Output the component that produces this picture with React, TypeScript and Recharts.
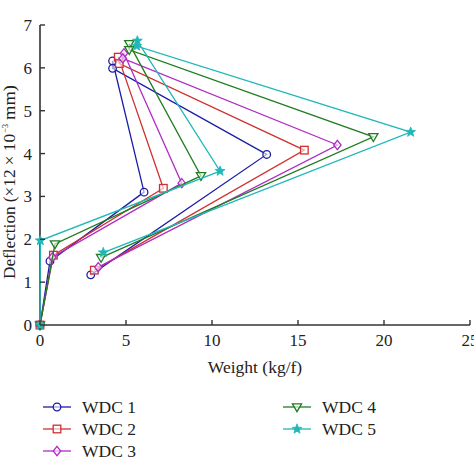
import React from "react";
import { ScatterChart, Scatter, XAxis, YAxis, Label } from "recharts";

const seriesNames = ["WDC 1", "WDC 2", "WDC 3", "WDC 4", "WDC 5"];
const wdc1X = [0, 0.58, 6.05, 4.22, 4.22, 13.18, 2.95];
const wdc1Y = [0, 1.49, 3.1, 6.16, 5.99, 3.98, 1.17];
const wdc2X = [0, 0.78, 7.17, 4.55, 4.61, 15.37, 3.16];
const wdc2Y = [0, 1.63, 3.19, 6.25, 6.1, 4.08, 1.28];
const wdc3X = [0, 0.72, 8.24, 4.88, 4.81, 17.29, 3.39];
const wdc3Y = [0, 1.58, 3.31, 6.34, 6.22, 4.2, 1.35];
const wdc4X = [0, 0.87, 9.36, 5.19, 5.19, 19.38, 3.55];
const wdc4Y = [0, 1.89, 3.48, 6.56, 6.42, 4.39, 1.57];
const wdc5X = [0, 0.02, 10.47, 5.66, 5.62, 21.55, 3.68];
const wdc5Y = [0, 1.97, 3.59, 6.63, 6.51, 4.5, 1.69];
const xTicks = [0, 5, 10, 15, 20, 25];
const yTicks = [0, 1, 2, 3, 4, 5, 6, 7];

const colors = ["#1c1ca8", "#d03030", "#b02cc4", "#1f7d1f", "#1fb8b8"];
const markerTypes = ["circle", "square", "diamond", "triangleDown", "star"];
const FONT = "'Liberation Serif', 'DejaVu Serif', serif";

const toPoints = (xs: number[], ys: number[]) => xs.map((x, i) => ({ x, y: ys[i] }));
const seriesData = [
  toPoints(wdc1X, wdc1Y),
  toPoints(wdc2X, wdc2Y),
  toPoints(wdc3X, wdc3Y),
  toPoints(wdc4X, wdc4Y),
  toPoints(wdc5X, wdc5Y),
];

function Marker({ type, cx, cy, color }: { type: string; cx: number; cy: number; color: string }) {
  const r = 3.8;
  if (type === "circle") {
    return <circle cx={cx} cy={cy} r={r} fill="white" fillOpacity={0.6} stroke={color} strokeWidth={1.3} />;
  }
  if (type === "square") {
    return <rect x={cx - r} y={cy - r} width={2 * r} height={2 * r} fill="white" fillOpacity={0.6} stroke={color} strokeWidth={1.3} />;
  }
  if (type === "diamond") {
    const d = r + 0.8;
    return (
      <polygon
        points={`${cx},${cy - d} ${cx + d * 0.8},${cy} ${cx},${cy + d} ${cx - d * 0.8},${cy}`}
        fill="white"
        fillOpacity={0.6}
        stroke={color}
        strokeWidth={1.3}
      />
    );
  }
  if (type === "triangleDown") {
    const d = r + 0.8;
    return (
      <polygon
        points={`${cx - d},${cy - d * 0.7} ${cx + d},${cy - d * 0.7} ${cx},${cy + d}`}
        fill="white"
        fillOpacity={0.6}
        stroke={color}
        strokeWidth={1.3}
      />
    );
  }
  const pts: string[] = [];
  const R = 5.2;
  const ri = 2.2;
  for (let i = 0; i < 10; i++) {
    const a = -Math.PI / 2 + (i * Math.PI) / 5;
    const rr = i % 2 === 0 ? R : ri;
    pts.push(`${cx + rr * Math.cos(a)},${cy + rr * Math.sin(a)}`);
  }
  return <polygon points={pts.join(" ")} fill={color} stroke={color} strokeWidth={0.8} />;
}

const XTick = (props: any) => {
  const { x, y, payload } = props;
  const axisY = y - 21;
  return (
    <g>
      <line x1={x} y1={axisY} x2={x} y2={axisY - 5} stroke="#333" strokeWidth={1.4} />
      <text x={x} y={y} textAnchor="middle" fontFamily={FONT} fontSize={17} fill="#222">
        {payload.value}
      </text>
    </g>
  );
};

const YTick = (props: any) => {
  const { x, y, payload } = props;
  const axisX = x + 8;
  return (
    <g>
      <line x1={axisX} y1={y} x2={axisX + 5} y2={y} stroke="#333" strokeWidth={1.4} />
      <text x={x} y={y + 6} textAnchor="end" fontFamily={FONT} fontSize={17} fill="#222">
        {payload.value}
      </text>
    </g>
  );
};

const XLabel = () => (
  <text x={255} y={373} textAnchor="middle" fontFamily={FONT} fontSize={17.5} fill="#222">
    Weight (kg/f)
  </text>
);

const YLabel = () => (
  <g transform="translate(15,181) rotate(-90)" fontFamily={FONT} fill="#222">
    <text x={-98} y={0} fontSize={17} textLength={145} lengthAdjust="spacingAndGlyphs">
      Deflection (×12 × 10
    </text>
    <text x={48} y={-7} fontSize={9} textLength={9} lengthAdjust="spacingAndGlyphs">
      −3
    </text>
    <text x={61} y={0} fontSize={17} textLength={35} lengthAdjust="spacingAndGlyphs">
      mm)
    </text>
  </g>
);

const legendCols = [
  { lineX: 43, textX: 82 },
  { lineX: 283, textX: 322 },
];
const legendRows = [407, 429, 451];

export default function App() {
  return (
    <div style={{ position: "absolute", left: 0, top: 0, width: 474, height: 474, background: "white" }}>
      <ScatterChart width={474} height={474} margin={{ top: 25, right: 4, bottom: 109, left: 10 }}>
        <XAxis
          dataKey="x"
          type="number"
          domain={[0, 25]}
          ticks={xTicks}
          interval={0}
          tickLine={false}
          tickSize={0}
          tickMargin={21}
          tick={<XTick />}
          axisLine={{ stroke: "#333", strokeWidth: 1.6 }}
          height={40}
        >
          <Label content={<XLabel />} />
        </XAxis>
        <YAxis
          dataKey="y"
          type="number"
          domain={[0, 7]}
          ticks={yTicks}
          interval={0}
          tickLine={false}
          tickSize={0}
          tickMargin={8}
          tick={<YTick />}
          axisLine={{ stroke: "#333", strokeWidth: 1.6 }}
          width={30}
        >
          <Label content={<YLabel />} />
        </YAxis>
        {seriesData.map((d, i) => (
          <Scatter
            key={seriesNames[i]}
            name={seriesNames[i]}
            data={d}
            isAnimationActive={false}
            line={{ stroke: colors[i], strokeWidth: 1.3 }}
            lineType="joint"
            shape={(p: any) => <Marker type={markerTypes[i]} cx={p.cx} cy={p.cy} color={colors[i]} />}
          />
        ))}
      </ScatterChart>
      <svg width={474} height={474} style={{ position: "absolute", left: 0, top: 0, pointerEvents: "none" }}>
        {seriesNames.map((name, i) => {
          const col = legendCols[i < 3 ? 0 : 1];
          const y = legendRows[i < 3 ? i : i - 3];
          return (
            <g key={name}>
              <line x1={col.lineX} y1={y} x2={col.lineX + 28} y2={y} stroke={colors[i]} strokeWidth={1.3} />
              <Marker type={markerTypes[i]} cx={col.lineX + 14} cy={y} color={colors[i]} />
              <text x={col.textX} y={y + 6} fontFamily={FONT} fontSize={17.5} fill="#222">
                {name}
              </text>
            </g>
          );
        })}
      </svg>
    </div>
  );
}
